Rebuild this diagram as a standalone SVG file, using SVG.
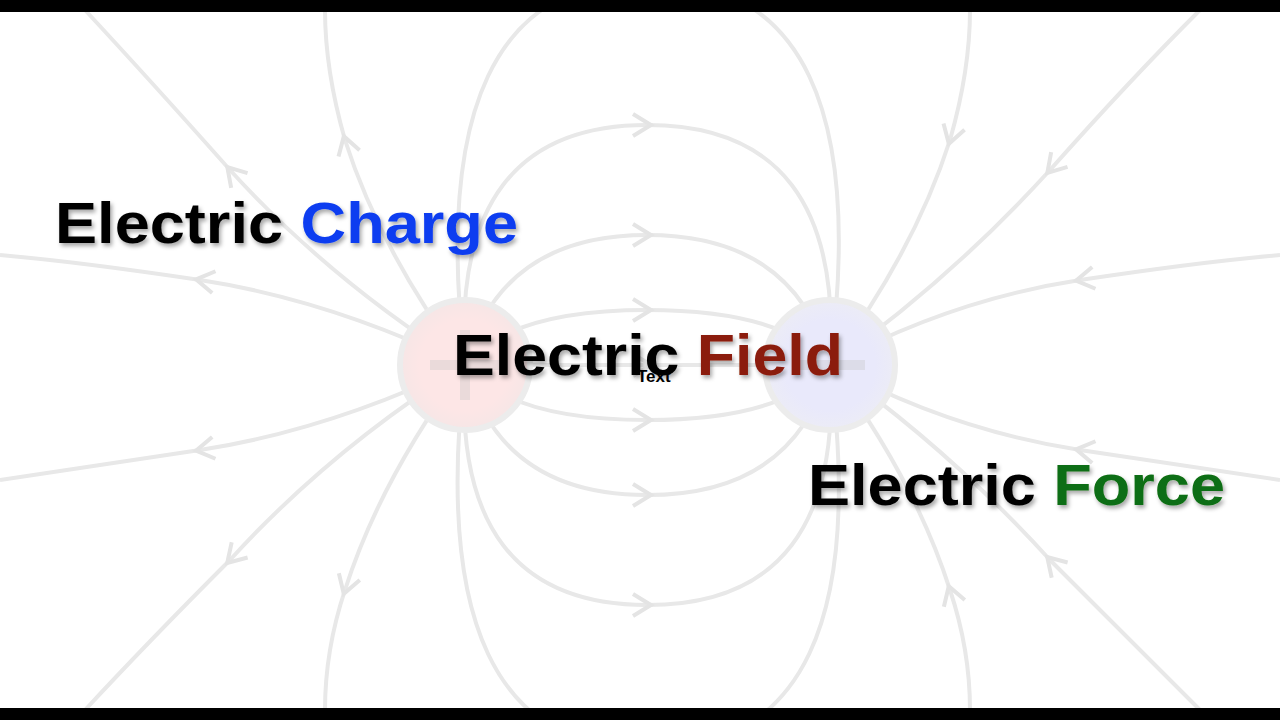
<svg xmlns="http://www.w3.org/2000/svg" width="1280" height="720" viewBox="0 0 1280 720">
<defs>
<marker id="chev" viewBox="0 0 30 30" refX="18" refY="15" markerWidth="30" markerHeight="30" markerUnits="userSpaceOnUse" orient="auto"><path d="M4 4 L22 15 L4 26" fill="none" stroke="#e4e4e4" stroke-width="4"/></marker>
<filter id="sh" x="-5%" y="-20%" width="110%" height="140%"><feDropShadow dx="2" dy="3" stdDeviation="2" flood-color="#000" flood-opacity="0.35"/></filter>
<radialGradient id="rp"><stop offset="0.7" stop-color="#fde6e6"/><stop offset="1" stop-color="#f6e6e6"/></radialGradient>
<radialGradient id="rn"><stop offset="0.7" stop-color="#e9e9fb"/><stop offset="1" stop-color="#ececf6"/></radialGradient>
</defs>
<style>
.fl{fill:none;stroke:#e8e8e8;stroke-width:4;marker-mid:url(#chev)}
.t{font-family:"Liberation Sans",Arial,sans-serif;font-weight:bold;font-size:58px;filter:url(#sh)}
</style>
<rect width="1280" height="720" fill="#fff"/>
<g id="connectors">
<path class="fl" d="M465 365 L647 365 L830 365"/>
<path class="fl" d="M465 365 Q510 310 647 310 Q785 310 830 365"/>
<path class="fl" d="M465 365 Q510 420 647 420 Q785 420 830 365"/>
<path class="fl" d="M465 365 Q500 235 647 235 Q795 235 830 365"/>
<path class="fl" d="M465 365 Q500 495 647 495 Q795 495 830 365"/>
<path class="fl" d="M465 365 Q450 125 647 125 Q845 125 830 365"/>
<path class="fl" d="M465 365 Q450 605 647 605 Q845 605 830 365"/>
<path class="fl" d="M465 365 Q420 -20 647 -20 Q880 -20 830 365"/>
<path class="fl" d="M465 365 Q420 750 647 750 Q880 750 830 365"/>
<path class="fl" d="M465 365 Q330 300 200 280 Q80 262 0 255"/>
<path class="fl" d="M465 365 Q330 430 200 450 Q80 468 0 480"/>
<path class="fl" d="M465 365 Q330 280 230 170 Q150 80 85 10"/>
<path class="fl" d="M465 365 Q330 450 230 560 Q150 640 85 710"/>
<path class="fl" d="M465 365 Q380 250 345 140 Q325 70 325 10"/>
<path class="fl" d="M465 365 Q380 480 345 590 Q325 650 325 710"/>
<path class="fl" d="M1280 255 Q1200 262 1080 280 Q950 300 830 365"/>
<path class="fl" d="M1280 480 Q1200 468 1080 450 Q950 430 830 365"/>
<path class="fl" d="M1200 10 Q1130 80 1050 170 Q950 280 830 365"/>
<path class="fl" d="M1200 710 Q1130 640 1050 560 Q950 450 830 365"/>
<path class="fl" d="M970 10 Q970 70 950 140 Q915 250 830 365"/>
<path class="fl" d="M970 710 Q970 650 950 590 Q915 480 830 365"/>
</g>
<g id="plus">
<circle cx="465" cy="365" r="65" fill="url(#rp)" stroke="#ececec" stroke-width="6"/>
<path d="M430 365 H500 M465 330 V400" stroke="#eadada" stroke-width="10"/>
</g>
<g id="minus">
<circle cx="830" cy="365" r="65" fill="url(#rn)" stroke="#ececec" stroke-width="6"/>
<path d="M795 365 H865" stroke="#dcdce8" stroke-width="10"/>
</g>
<rect x="0" y="0" width="1280" height="12" fill="#000"/>
<rect x="0" y="708" width="1280" height="12" fill="#000"/>
<g id="charge"><text class="t" x="55" y="243" textLength="463" lengthAdjust="spacingAndGlyphs">Electric <tspan fill="#0a3cf0">Charge</tspan></text></g>
<g id="field"><text class="t" x="453" y="375" textLength="390" lengthAdjust="spacingAndGlyphs">Electric <tspan fill="#8b1a0a">Field</tspan></text>
<text x="637" y="382" font-family="Liberation Sans,Arial,sans-serif" font-size="17" font-weight="bold">Text</text></g>
<g id="force"><text class="t" x="808" y="505" textLength="417" lengthAdjust="spacingAndGlyphs">Electric <tspan fill="#0f6e12">Force</tspan></text></g>
</svg>
